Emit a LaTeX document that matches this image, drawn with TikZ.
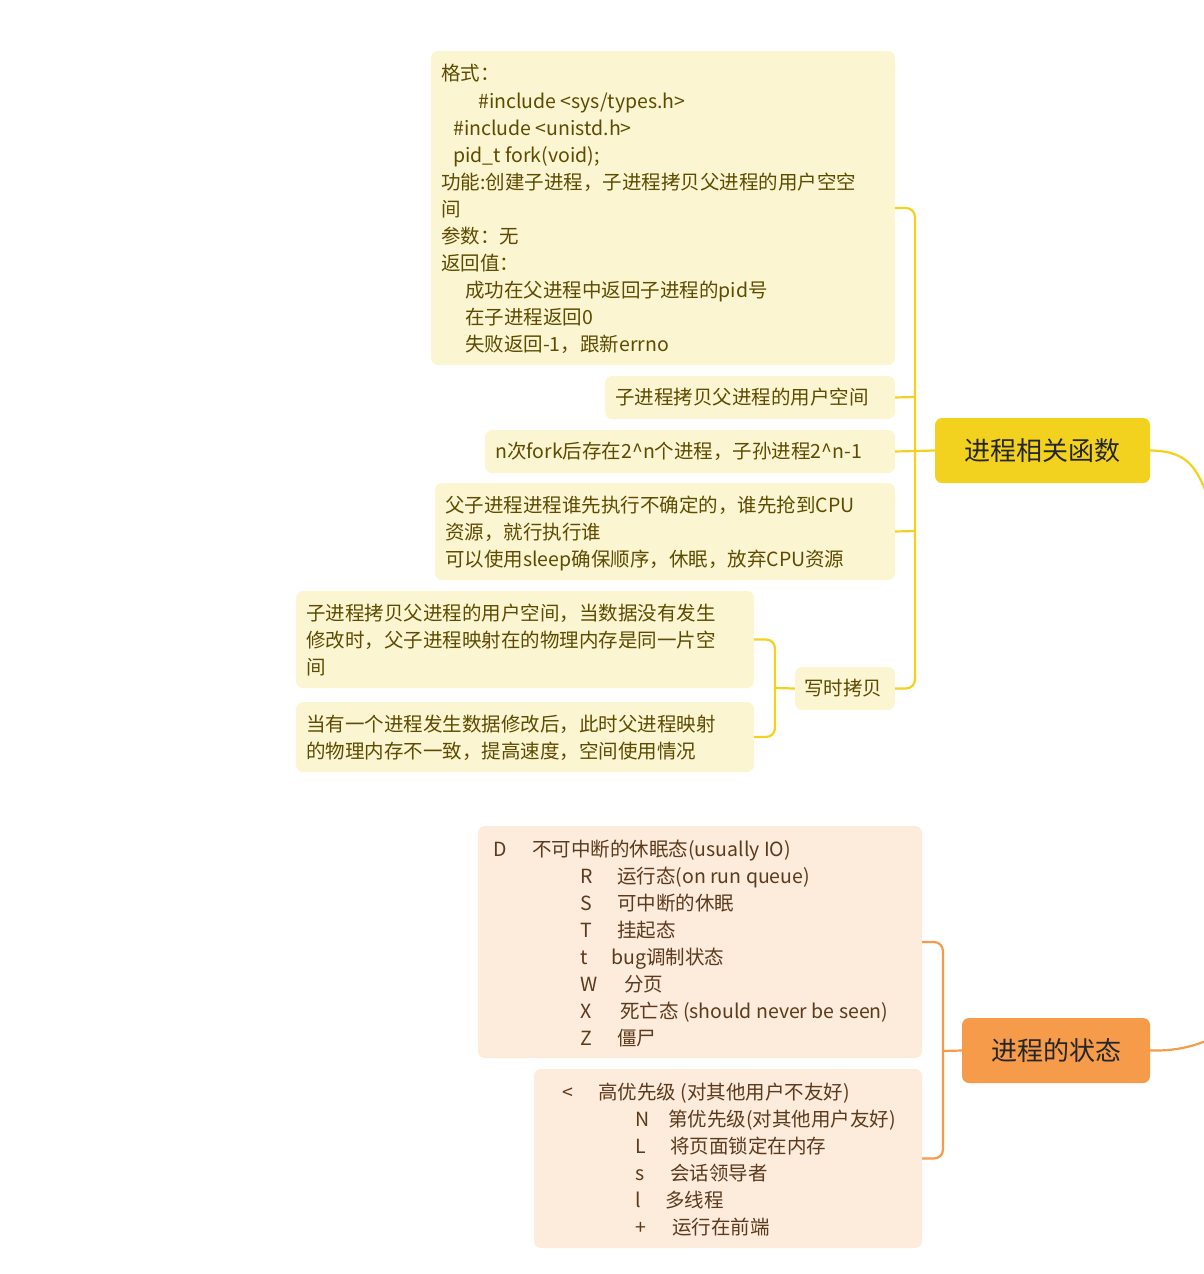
\documentclass[tikz,border=0pt]{standalone}
\usepackage{fontspec}
\setmainfont{Noto Sans CJK SC}
\definecolor{ylt}{HTML}{FCF5D2}
\definecolor{ymain}{HTML}{F2D21E}
\definecolor{olt}{HTML}{FDEBDC}
\definecolor{omain}{HTML}{F59B4A}
\definecolor{ytxt}{HTML}{5C4B00}
\definecolor{otxt}{HTML}{5C3A1C}
\tikzset{
 ybox/.style={fill=ylt,rounded corners=7,draw=none},
 obox/.style={fill=olt,rounded corners=7,draw=none},
 txt/.style={anchor=base west,inner sep=0,font=\fontsize{19.5}{27}\selectfont},
 ytx/.style={txt,text=ytxt},
 otx/.style={txt,text=otxt},
 yline/.style={draw=ymain,line width=2.2pt},
 oline/.style={draw=omain,line width=2.2pt},
}
\newcommand\BX[6]{\node[#1,minimum width=#4-#2,minimum height=#5-#3,inner sep=0] (#6) at ({(#2+#4)/2},{(#3+#5)/2}) {};}
\begin{document}
\begin{tikzpicture}[x=1pt,y=-1pt]
\useasboundingbox (0,0) rectangle (1204,1274);
% yellow boxes
\BX{ybox}{431}{51}{895}{365}{b1}
\BX{ybox}{605}{376}{895}{419}{b2}
\BX{ybox}{485}{430}{895}{473}{b3}
\BX{ybox}{435}{483}{895}{580}{b4}
\BX{ybox}{296}{591}{754}{688}{b5}
\BX{ybox}{296}{702}{754}{772}{b6}
\BX{ybox}{795}{667}{895}{710}{b7}
\node[fill=ymain,rounded corners=7,minimum width=215,minimum height=65,inner sep=0,font=\fontsize{26}{30}\selectfont,text=black!85] (m1) at (1042.5,450.5) {进程相关函数};
% texts
\node[ytx] at (441,80) {格式：};
\node[ytx] at (478,108) {\#include <sys/types.h>};
\node[ytx] at (453,135) {\#include <unistd.h>};
\node[ytx] at (453,162) {pid\_t fork(void);};
\node[ytx] at (441,189) {功能:创建子进程，子进程拷贝父进程的用户空空};
\node[ytx] at (441,216) {间};
\node[ytx] at (441,243) {参数：无};
\node[ytx] at (441,270) {返回值：};
\node[ytx] at (465,297) {成功在父进程中返回子进程的pid号};
\node[ytx] at (465,324) {在子进程返回0};
\node[ytx] at (465,351) {失败返回-1，跟新errno};
\node[ytx] at (615,404) {子进程拷贝父进程的用户空间};
\node[ytx] at (495,458) {n次fork后存在2\^{}n个进程，子孙进程2\^{}n-1};
\node[ytx] at (445,512) {父子进程进程谁先执行不确定的，谁先抢到CPU};
\node[ytx] at (445,539) {资源，就行执行谁};
\node[ytx] at (445,566) {可以使用sleep确保顺序，休眠，放弃CPU资源};
\node[ytx] at (306,620) {子进程拷贝父进程的用户空间，当数据没有发生};
\node[ytx] at (306,647) {修改时，父子进程映射在的物理内存是同一片空};
\node[ytx] at (306,674) {间};
\node[ytx] at (306,731) {当有一个进程发生数据修改后，此时父进程映射};
\node[ytx] at (306,758) {的物理内存不一致，提高速度，空间使用情况};
\node[ytx] at (804,695) {写时拷贝};
% yellow connectors
\draw[yline,rounded corners=9] (b1.east) -| (915,450) |- (b7.east);
\draw[yline] (b2.east) -- (915,397);
\draw[yline] (b3.east) -- (m1.west);
\draw[yline] (b4.east) -- (915,531);
\draw[yline,rounded corners=9] (b5.east) -| (775,688) |- (b6.east);
\draw[yline] (775,688) -- (b7.west);
\draw[yline] (m1.east) .. controls (1185,451) and (1195,465) .. (1206,492);
% orange boxes
\BX{obox}{478}{826}{922}{1058}{c1}
\BX{obox}{534}{1069}{922}{1248}{c2}
\node[fill=omain,rounded corners=7,minimum width=188,minimum height=65,inner sep=0,font=\fontsize{26}{30}\selectfont,text=black!85] (m2) at (1056,1050.5) {进程的状态};
\node[otx] at (493,856) {D}; \node[otx] at (532,856) {不可中断的休眠态(usually IO)};
\node[otx] at (580,883) {R}; \node[otx] at (617,883) {运行态(on run queue)};
\node[otx] at (580,910) {S}; \node[otx] at (617,910) {可中断的休眠};
\node[otx] at (580,937) {T}; \node[otx] at (617,937) {挂起态};
\node[otx] at (580,964) {t}; \node[otx] at (611,964) {bug调制状态};
\node[otx] at (580,991) {W}; \node[otx] at (624,991) {分页};
\node[otx] at (580,1018) {X}; \node[otx] at (620,1018) {死亡态 (should never be seen)};
\node[otx] at (580,1045) {Z}; \node[otx] at (617,1045) {僵尸};
\node[otx] at (562,1099) {<}; \node[otx] at (598,1099) {高优先级 (对其他用户不友好)};
\node[otx] at (635,1126) {N}; \node[otx] at (668,1126) {第优先级(对其他用户友好)};
\node[otx] at (635,1153) {L}; \node[otx] at (670,1153) {将页面锁定在内存};
\node[otx] at (635,1180) {s}; \node[otx] at (670,1180) {会话领导者};
\node[otx] at (635,1207) {l}; \node[otx] at (665,1207) {多线程};
\node[otx] at (635,1234) {+}; \node[otx] at (672,1234) {运行在前端};
\draw[oline,rounded corners=9] (c1.east) -| (943,1051) |- (c2.east);
\draw[oline] (943,1051) -- (m2.west);
\draw[oline] (m2.east) .. controls (1175,1051) and (1190,1047) .. (1206,1041);
\end{tikzpicture}
\end{document}
